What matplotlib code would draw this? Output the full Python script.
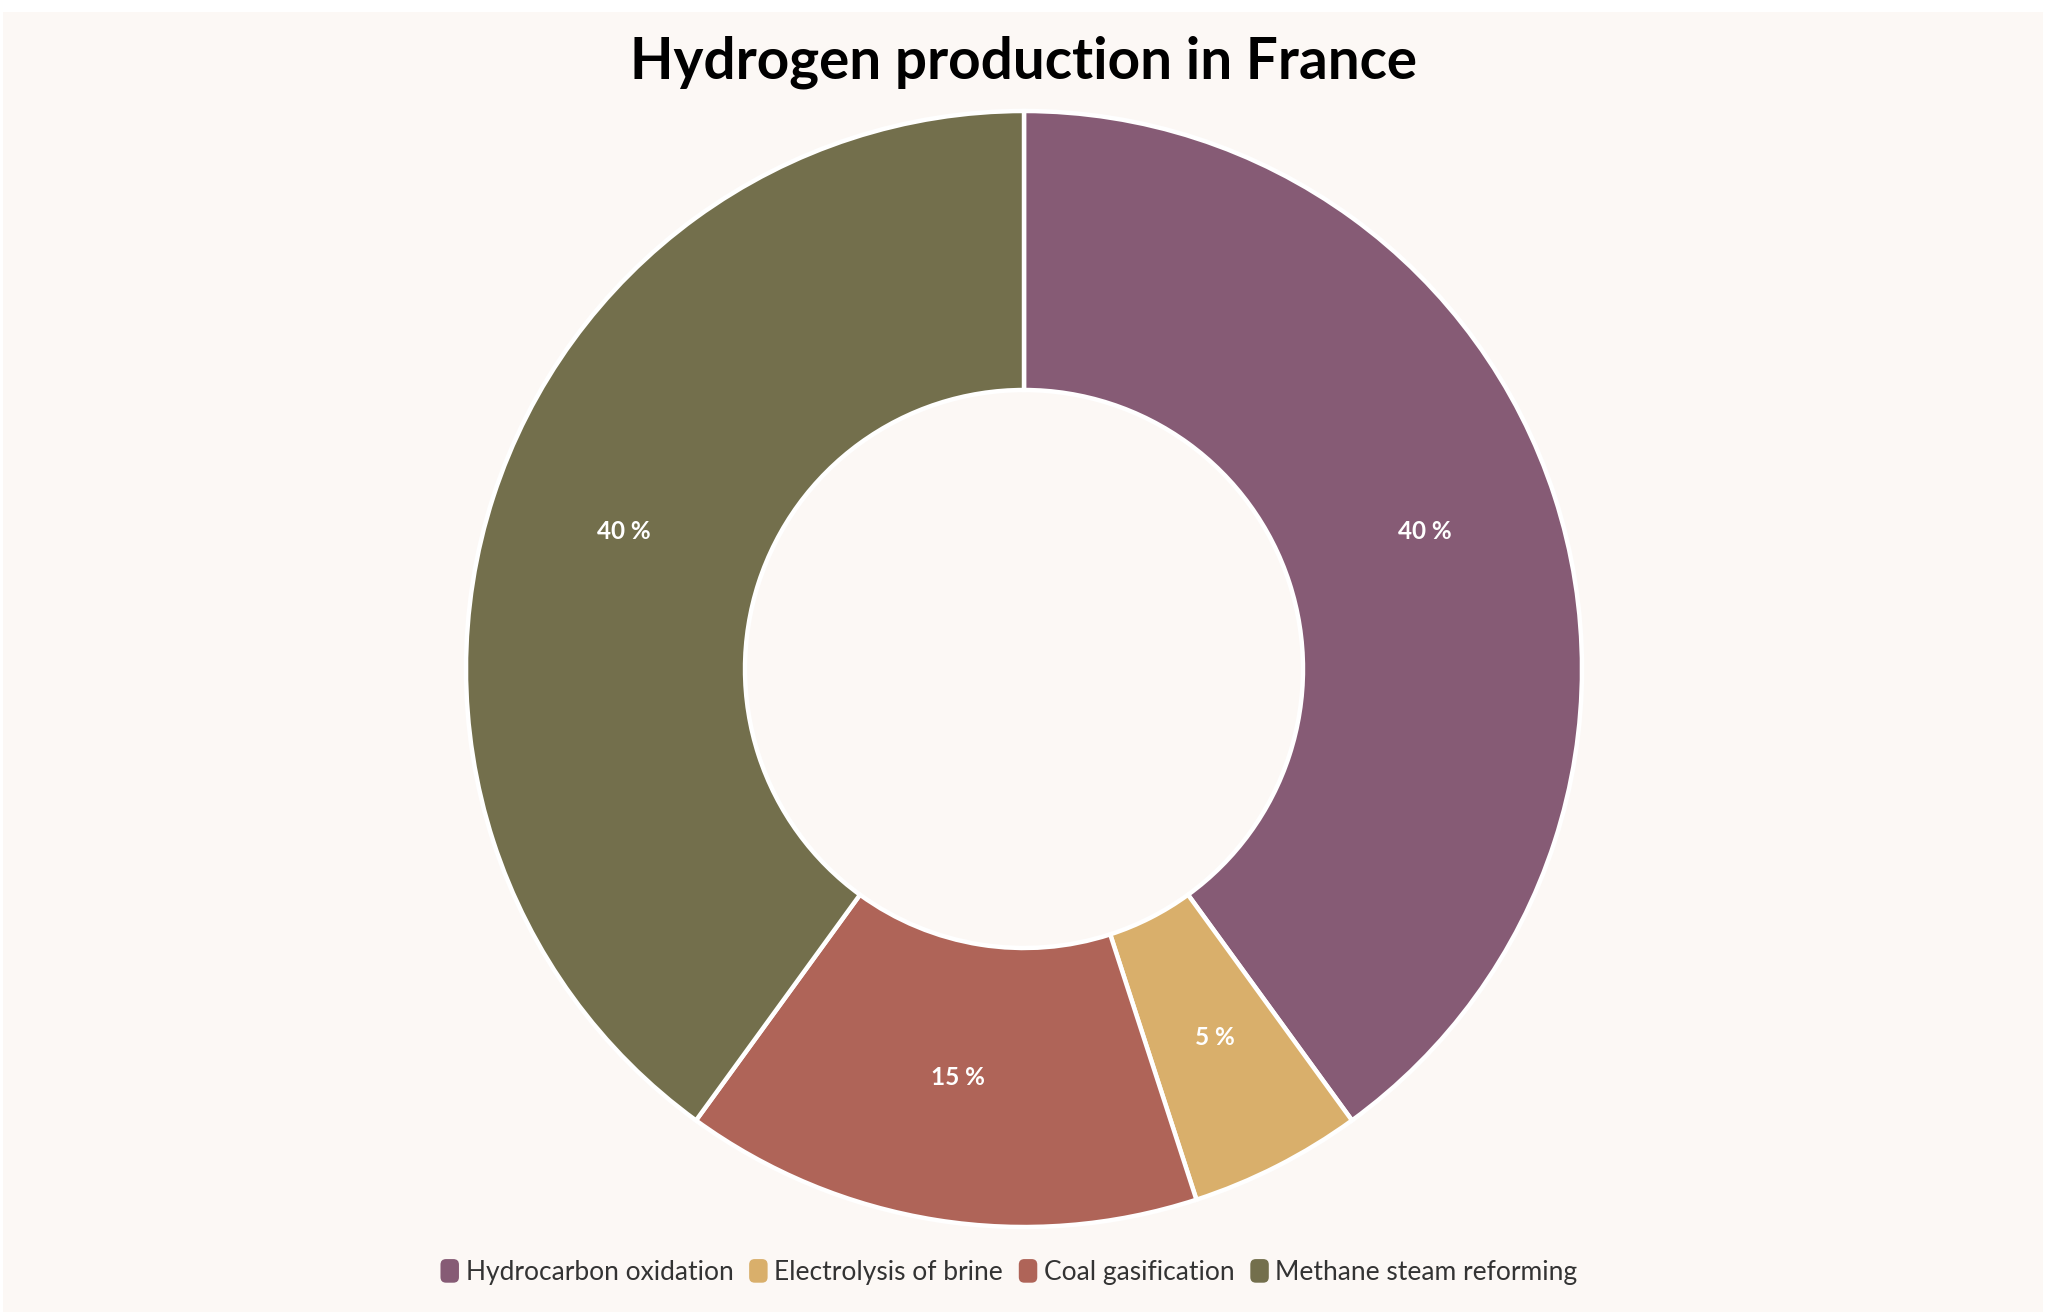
import numpy as np
import matplotlib
matplotlib.use("Agg")
import matplotlib.pyplot as plt
from matplotlib.patches import Rectangle, FancyBboxPatch, Patch
from matplotlib.legend_handler import HandlerPatch

labels = ["Hydrocarbon oxidation", "Electrolysis of brine", "Coal gasification", "Methane steam reforming"]
values = [40, 5, 15, 40]
colors = ["#865B75", "#D9AF6B", "#AF6458", "#736F4C"]
title = "Hydrogen production in France"

bg = "#FCF8F5"
plt.rcParams["font.family"] = ["Lato", "DejaVu Sans"]

W, H = 2048, 1312
fig = plt.figure(figsize=(W / 100, H / 100), dpi=100, facecolor="white")
fig.patches.append(Rectangle((3 / W, 0), 2040 / W, 1 - 12 / H, transform=fig.transFigure,
                             facecolor=bg, edgecolor="none", zorder=-1))

# donut, centre ~ (1024, 669) px from top, outer radius ~558 px
cx, cy, r = 1024, H - 669, 558
ax = fig.add_axes([(cx - r) / W, (cy - r) / H, 2 * r / W, 2 * r / H])

wedges, texts = ax.pie(values, colors=colors, startangle=90, counterclock=False, radius=1,
                       wedgeprops=dict(width=0.5, edgecolor="white", linewidth=3.2))
ax.set_xlim(-1, 1)
ax.set_ylim(-1, 1)
ax.set_aspect("equal")
ax.axis("off")

for w, v in zip(wedges, values):
    ang = np.deg2rad((w.theta1 + w.theta2) / 2)
    ax.text(0.755 * np.cos(ang), 0.755 * np.sin(ang) + 0.013, f"{v} %", ha="center", va="center",
            color="white", fontsize=17.5, fontweight="bold")

fig.text(1023 / W, 1 - 62 / H, title, ha="center", va="center", fontsize=40.8, fontweight="bold",
         color="black")


class RoundHandler(HandlerPatch):
    def create_artists(self, legend, orig_handle, xdescent, ydescent, width, height, fontsize, trans):
        p = FancyBboxPatch((-xdescent, -ydescent), width, height,
                           boxstyle="round,pad=0,rounding_size=4",
                           facecolor=orig_handle.get_facecolor(), edgecolor="none", transform=trans)
        return [p]


handles = [Patch(facecolor=c) for c in colors]
fig.legend(handles, labels, loc="center", bbox_to_anchor=(1009 / W, 1 - 1272 / H), ncol=4,
           frameon=False, fontsize=19, labelcolor="#333333",
           handler_map={Patch: RoundHandler()},
           handlelength=0.7, handleheight=1.0, handletextpad=0.25, columnspacing=0.6)

fig.savefig("out.png", dpi=100, facecolor="white")
